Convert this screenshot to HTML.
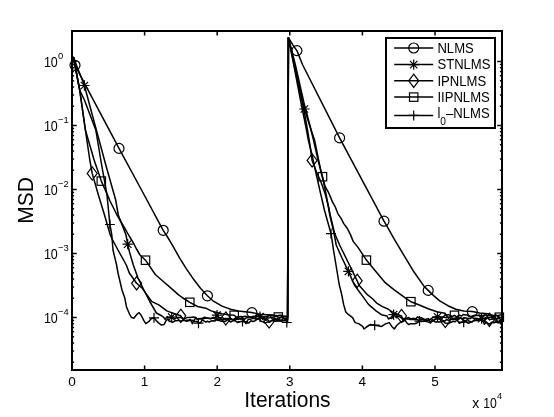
<!DOCTYPE html>
<html><head><meta charset="utf-8"><style>
html,body{margin:0;padding:0;background:#fff;}
svg{display:block;}
text{font-family:"Liberation Sans",Arial,Helvetica,sans-serif;fill:#000;}
.c{fill:none;stroke:#000;stroke-width:1.5;stroke-linejoin:round;stroke-linecap:round;}
.m{fill:none;stroke:#000;stroke-width:1.2;}
.ax{fill:none;stroke:#000;stroke-width:2;}
.tk{fill:none;stroke:#000;stroke-width:1.5;}
</style></head><body>
<svg width="554" height="417" viewBox="0 0 554 417">
<rect width="554" height="417" fill="#fff"/>
<polyline class="c" points="73.5,57.5 75.0,65.3 119.0,148.4 141.0,189.0 163.2,230.3 167.2,236.5 172.5,245.3 179.7,258.2 186.4,268.8 193.6,279.3 200.5,288.2 207.4,295.8 213.4,301.2 222.0,306.1 230.6,309.3 238.2,310.9 245.0,311.8 251.9,312.6 260.0,314.2 270.0,315.0 271.5,315.5 274.0,315.9 276.0,315.4 277.6,315.7 279.6,315.3 281.1,315.2 282.9,316.3 285.1,316.5 287.6,317.3 288.4,37.7 292.7,44.7 296.9,50.6 302.7,65.0 339.6,137.9 384.0,221.2 386.5,225.4 394.1,238.8 404.1,255.6 414.2,272.3 424.3,286.6 428.2,290.4 433.9,295.9 439.7,300.9 447.9,305.7 455.8,309.3 463.7,311.0 472.3,311.6 479.6,313.0 490.0,314.0 491.5,315.1 493.7,315.5 495.6,315.3 498.0,315.8 500.0,314.9 501.4,314.8"/>
<polyline class="c" points="73.5,57.5 84.4,85.5 95.0,125.0 105.8,165.0 115.7,200.0 118.3,215.0 126.0,235.0 127.7,244.1 129.5,252.0 133.3,265.0 138.0,278.0 143.9,290.0 150.0,302.0 156.4,313.0 162.0,316.0 163.5,317.1 165.1,319.3 167.2,316.6 168.6,317.8 171.7,317.1 173.3,318.4 175.3,318.8 176.8,317.4 179.2,317.6 181.1,317.5 183.3,318.8 185.4,318.3 187.8,317.4 190.0,317.5 191.9,317.2 193.4,317.1 195.8,317.6 197.6,319.7 199.4,318.5 201.7,319.0 203.5,318.8 205.2,318.3 207.5,318.3 209.4,318.5 211.5,318.2 213.3,317.3 215.6,318.1 217.0,315.2 219.1,318.0 221.7,317.6 224.0,318.5 225.7,319.6 227.6,318.4 230.0,318.2 231.8,319.2 233.7,319.5 236.0,317.6 238.1,318.4 239.9,319.0 242.3,317.7 244.3,319.3 246.0,318.1 248.5,317.2 251.1,317.3 253.0,316.4 255.1,316.5 256.9,314.6 260.0,316.7 261.8,316.3 263.3,317.0 265.1,318.7 267.2,318.0 269.3,317.9 271.2,317.3 273.4,318.0 275.6,318.4 277.8,320.8 279.8,318.2 281.9,316.7 283.6,317.9 287.6,318.8 288.4,37.7 294.2,65.0 302.0,100.0 304.4,109.0 309.5,125.0 314.5,140.0 318.0,157.0 321.0,172.0 323.6,182.0 326.2,195.0 328.4,207.0 329.8,215.0 334.0,233.0 336.2,245.0 342.0,258.0 348.4,271.4 354.4,285.0 363.1,296.9 368.5,304.4 376.0,310.9 381.4,314.7 387.0,316.0 388.5,319.0 390.0,318.1 391.9,318.5 393.6,314.6 396.2,317.2 397.6,316.1 399.7,316.9 401.8,318.0 404.2,319.0 406.3,318.2 408.8,317.6 411.0,319.0 413.4,318.2 415.4,319.2 417.5,316.9 419.2,318.1 421.3,317.7 423.3,318.9 425.3,320.6 427.2,320.5 429.7,320.0 431.2,318.6 432.8,317.6 434.7,317.6 436.1,316.5 437.8,317.0 439.2,316.3 441.2,318.0 443.2,317.0 445.5,317.4 447.7,317.3 450.1,317.1 452.7,318.5 454.5,318.3 456.7,317.6 459.3,318.1 460.8,318.1 462.4,318.6 463.9,317.8 466.2,318.0 468.6,318.7 470.1,318.5 472.0,317.3 474.0,318.5 475.7,318.2 477.3,318.4 479.4,319.0 480.9,318.8 482.3,318.4 484.9,318.1 486.6,317.6 489.0,317.7 490.4,317.1 492.8,318.3 494.9,317.2 496.5,318.8 498.1,318.8 500.5,317.6"/>
<polyline class="c" points="73.5,57.5 79.7,90.0 85.4,130.0 89.8,160.0 92.2,173.4 98.4,195.0 104.5,215.0 110.3,235.0 112.0,238.8 118.0,250.0 126.3,265.0 129.3,273.0 136.6,283.3 141.9,287.9 151.5,301.3 159.2,305.2 166.8,310.9 174.5,313.8 180.8,315.8 183.0,319.2 185.4,320.6 187.1,320.2 188.7,320.2 190.3,319.5 192.4,323.6 193.9,320.2 195.9,318.0 197.4,319.3 199.9,318.7 202.5,318.2 204.7,317.2 206.8,317.9 208.9,318.2 210.9,318.7 212.5,318.0 214.3,318.6 216.4,319.7 218.5,320.5 220.4,319.0 222.4,320.0 224.0,319.6 225.8,318.5 228.6,319.3 230.9,318.5 232.9,320.0 235.4,319.4 237.8,317.3 240.1,318.7 242.3,319.6 244.0,320.5 246.0,323.7 248.2,319.3 250.1,319.2 252.2,318.6 254.6,318.4 256.6,319.3 258.8,319.1 260.2,317.3 261.9,318.4 264.4,318.8 266.1,320.2 267.7,319.6 269.1,321.5 271.3,320.9 273.3,320.1 275.1,319.4 277.5,320.2 279.9,319.9 281.4,320.3 283.2,318.1 284.6,319.4 287.6,319.6 288.4,37.7 294.6,65.0 303.0,105.0 307.5,130.0 310.0,145.0 312.1,160.4 316.5,172.0 321.0,182.0 325.5,195.0 328.6,207.0 330.2,215.0 334.5,233.0 339.6,245.0 348.0,262.0 357.2,280.8 358.8,285.0 367.4,294.7 372.8,299.0 377.1,303.4 382.5,306.6 388.0,309.0 394.0,313.0 401.5,316.0 403.0,321.1 404.5,319.2 406.4,318.8 408.3,319.0 410.3,319.5 412.2,319.5 414.5,319.2 416.6,319.5 418.7,320.2 420.6,319.5 422.8,319.3 425.0,319.6 427.0,319.1 428.7,318.8 430.4,323.1 432.1,319.6 433.7,320.3 435.6,319.1 437.2,318.9 439.2,318.8 440.7,319.1 442.7,320.4 445.3,320.9 446.6,319.3 449.1,320.9 450.5,319.3 452.6,319.3 454.1,318.4 456.3,318.5 457.8,317.9 459.2,318.8 460.8,317.8 463.2,320.6 465.5,320.8 467.4,319.5 468.9,321.0 470.3,321.5 472.2,322.0 474.4,319.8 476.9,320.6 479.2,320.6 480.7,319.8 482.9,321.3 485.5,319.7 487.2,317.3 489.4,319.8 493.0,319.1 494.4,318.3 496.3,319.1 498.1,322.7 500.5,319.3"/>
<polyline class="c" points="73.5,57.5 79.7,90.0 85.4,130.0 94.1,160.0 101.3,181.1 107.5,195.0 110.0,201.0 113.0,207.0 117.0,215.0 124.0,227.0 128.0,234.0 131.0,239.0 133.8,243.6 136.5,249.0 140.0,255.0 145.5,260.2 155.3,274.5 163.0,281.2 170.7,287.9 178.3,294.6 182.2,297.5 189.8,302.3 197.5,306.5 205.8,308.2 211.2,310.9 216.6,312.5 222.0,313.8 228.0,314.8 234.2,315.3 236.0,316.9 238.2,317.1 240.7,316.5 243.0,316.8 245.2,316.2 247.1,317.0 249.4,316.9 251.9,316.8 253.7,316.4 255.9,317.4 257.4,315.9 259.0,315.8 261.2,316.4 262.7,316.7 264.4,317.0 267.0,316.5 268.9,315.4 271.1,315.1 272.6,315.0 274.3,315.2 275.8,316.3 278.3,317.0 281.3,317.2 282.9,316.8 284.6,316.2 287.6,316.2 288.4,37.7 295.4,65.0 304.0,103.0 308.5,120.0 313.5,140.0 318.0,160.0 322.5,176.7 325.2,186.7 328.6,192.6 332.8,202.7 335.3,206.9 337.8,213.6 341.2,218.6 343.6,223.4 347.2,228.2 350.8,235.4 353.2,241.4 358.0,247.4 362.8,254.6 366.4,260.1 375.0,270.6 384.6,282.1 394.2,289.8 399.4,293.7 406.6,298.8 410.9,301.7 418.1,304.5 428.2,308.8 436.8,311.7 445.0,313.2 446.5,315.5 448.1,314.6 450.7,315.6 452.2,316.5 454.5,315.3 456.8,316.9 459.1,315.2 461.7,316.0 463.2,314.4 465.5,315.0 467.5,314.9 469.0,316.8 471.3,316.4 473.1,315.8 474.8,315.3 477.3,315.4 479.8,315.1 481.3,316.6 482.8,315.6 485.2,314.8 487.8,315.7 490.1,315.4 492.6,316.2 494.2,316.4 495.8,315.2 499.3,317.2"/>
<polyline class="c" points="73.5,57.5 79.7,90.0 84.4,100.0 95.8,130.0 100.8,160.0 107.0,195.0 109.9,224.5 111.8,235.0 113.0,250.0 116.6,265.0 118.0,273.0 122.0,290.0 124.7,297.7 126.6,307.3 129.5,314.0 131.4,317.4 133.8,318.3 137.2,314.0 139.1,312.6 141.0,315.0 143.9,320.7 145.8,323.6 148.7,321.7 151.1,318.8 154.0,317.8 156.4,320.7 158.3,322.6 161.2,325.0 164.1,324.5 166.0,320.7 167.9,318.8 169.5,321.5 171.1,321.3 172.5,322.4 175.1,320.8 176.9,320.8 178.6,320.3 181.0,321.1 183.1,320.5 185.0,320.6 186.8,321.2 189.3,320.6 191.9,320.2 194.5,321.3 197.0,321.4 198.5,323.2 200.8,322.4 202.2,319.9 204.1,321.0 205.7,322.1 207.5,321.3 209.3,322.1 210.8,321.1 213.1,320.7 215.0,321.1 217.5,318.3 219.1,320.4 221.1,321.2 223.5,321.2 225.4,321.5 227.1,320.0 228.6,320.0 230.4,322.0 232.6,320.9 235.0,320.6 237.4,322.5 239.3,322.0 240.9,321.6 242.5,321.5 245.2,322.1 247.0,322.9 248.6,323.1 251.0,320.8 252.8,321.5 254.6,321.1 256.7,319.0 259.0,318.4 261.0,321.3 263.1,321.9 265.0,323.0 267.6,321.9 269.7,322.3 271.6,320.4 273.7,321.1 276.0,321.2 277.6,318.0 279.3,320.5 281.0,320.9 282.9,320.7 285.4,320.4 287.6,322.5 288.4,37.7 293.8,65.0 300.5,100.0 306.5,130.0 308.3,140.0 312.0,155.0 316.4,175.0 320.5,193.2 323.3,205.0 324.4,210.0 331.0,233.6 333.5,250.0 336.0,265.0 339.3,285.0 340.6,290.0 341.5,293.6 343.6,304.4 345.8,312.0 348.0,314.2 352.6,317.6 355.2,322.6 359.0,323.9 362.7,326.4 364.0,329.0 366.5,327.0 370.3,324.5 374.7,325.2 377.9,325.8 381.7,326.4 385.5,323.9 389.3,322.6 391.8,326.4 394.3,329.0 396.9,325.2 400.7,322.0 403.2,321.4 405.0,320.1 406.7,322.7 408.8,324.6 410.6,323.7 412.7,323.8 414.7,323.8 416.9,323.0 419.5,321.1 421.4,321.5 423.3,321.3 424.9,321.2 426.9,321.6 429.3,322.3 431.0,322.2 433.1,320.9 435.1,321.9 437.4,321.8 439.8,322.1 441.8,321.2 443.6,321.6 445.1,323.0 447.5,323.2 449.0,323.4 451.1,322.2 453.2,321.2 455.1,321.8 457.1,320.0 459.4,323.3 461.7,322.1 463.7,322.2 465.7,321.2 468.1,323.3 469.5,323.0 471.0,322.0 473.1,321.1 475.7,320.5 477.2,318.8 479.4,319.4 480.9,320.6 482.9,321.1 484.4,324.3 486.2,322.1 487.7,323.1 489.4,324.1 492.0,322.2 494.0,322.9 496.0,322.0 498.3,322.8 499.8,322.7 501.9,322.3"/>
<circle cx="75.0" cy="65.3" r="5.0" class="m"/>
<circle cx="119.0" cy="148.4" r="5.0" class="m"/>
<circle cx="163.2" cy="230.3" r="5.0" class="m"/>
<circle cx="207.4" cy="295.8" r="5.0" class="m"/>
<circle cx="251.9" cy="312.6" r="5.0" class="m"/>
<circle cx="296.9" cy="50.6" r="5.0" class="m"/>
<circle cx="339.6" cy="137.9" r="5.0" class="m"/>
<circle cx="384.0" cy="221.2" r="5.0" class="m"/>
<circle cx="428.2" cy="290.4" r="5.0" class="m"/>
<circle cx="472.3" cy="311.6" r="5.0" class="m"/>
<path d="M79.2 85.5H89.6M84.4 80.3V90.7M80.7 81.8L88.1 89.2M80.7 89.2L88.1 81.8" class="m"/>
<path d="M122.5 244.1H132.9M127.7 238.9V249.3M124.0 240.4L131.4 247.8M124.0 247.8L131.4 240.4" class="m"/>
<path d="M166.5 317.1H176.9M171.7 311.9V322.3M168.0 313.4L175.4 320.8M168.0 320.8L175.4 313.4" class="m"/>
<path d="M211.8 315.2H222.2M217.0 310.0V320.4M213.3 311.5L220.7 318.9M213.3 318.9L220.7 311.5" class="m"/>
<path d="M254.8 316.7H265.2M260.0 311.5V321.9M256.3 313.0L263.7 320.4M256.3 320.4L263.7 313.0" class="m"/>
<path d="M299.2 109.0H309.6M304.4 103.8V114.2M300.7 105.3L308.1 112.7M300.7 112.7L308.1 105.3" class="m"/>
<path d="M343.2 271.4H353.6M348.4 266.2V276.6M344.7 267.7L352.1 275.1M344.7 275.1L352.1 267.7" class="m"/>
<path d="M388.4 314.6H398.8M393.6 309.4V319.8M389.9 310.9L397.3 318.3M389.9 318.3L397.3 310.9" class="m"/>
<path d="M432.3 316.9H442.7M437.5 311.7V322.1M433.8 313.2L441.2 320.6M433.8 320.6L441.2 313.2" class="m"/>
<path d="M476.4 318.6H486.8M481.6 313.4V323.8M477.9 314.9L485.3 322.3M477.9 322.3L485.3 314.9" class="m"/>
<path d="M92.2 166.8L97.2 173.4L92.2 180.0L87.2 173.4Z" class="m"/>
<path d="M136.6 276.7L141.6 283.3L136.6 289.9L131.6 283.3Z" class="m"/>
<path d="M180.8 309.2L185.8 315.8L180.8 322.4L175.8 315.8Z" class="m"/>
<path d="M225.8 311.9L230.8 318.5L225.8 325.1L220.8 318.5Z" class="m"/>
<path d="M269.1 314.9L274.1 321.5L269.1 328.1L264.1 321.5Z" class="m"/>
<path d="M312.1 153.8L317.1 160.4L312.1 167.0L307.1 160.4Z" class="m"/>
<path d="M357.2 274.2L362.2 280.8L357.2 287.4L352.2 280.8Z" class="m"/>
<path d="M401.5 309.4L406.5 316.0L401.5 322.6L396.5 316.0Z" class="m"/>
<path d="M445.3 314.3L450.3 320.9L445.3 327.5L440.3 320.9Z" class="m"/>
<path d="M489.4 313.2L494.4 319.8L489.4 326.4L484.4 319.8Z" class="m"/>
<rect x="97.1" y="176.9" width="8.4" height="8.4" class="m"/>
<rect x="141.3" y="256.0" width="8.4" height="8.4" class="m"/>
<rect x="185.6" y="298.1" width="8.4" height="8.4" class="m"/>
<rect x="230.0" y="311.1" width="8.4" height="8.4" class="m"/>
<rect x="274.1" y="312.8" width="8.4" height="8.4" class="m"/>
<rect x="318.3" y="172.5" width="8.4" height="8.4" class="m"/>
<rect x="362.2" y="255.9" width="8.4" height="8.4" class="m"/>
<rect x="406.7" y="297.5" width="8.4" height="8.4" class="m"/>
<rect x="450.3" y="311.1" width="8.4" height="8.4" class="m"/>
<rect x="495.1" y="313.0" width="8.4" height="8.4" class="m"/>
<path d="M104.9 224.5H114.9M109.9 219.5V229.5" class="m"/>
<path d="M149.0 317.8H159.0M154.0 312.8V322.8" class="m"/>
<path d="M193.5 323.2H203.5M198.5 318.2V328.2" class="m"/>
<path d="M237.5 321.5H247.5M242.5 316.5V326.5" class="m"/>
<path d="M281.8 322.5H291.8M286.8 317.5V327.5" class="m"/>
<path d="M326.0 233.6H336.0M331.0 228.6V238.6" class="m"/>
<path d="M369.7 325.2H379.7M374.7 320.2V330.2" class="m"/>
<path d="M414.5 321.1H424.5M419.5 316.1V326.1" class="m"/>
<path d="M458.7 322.2H468.7M463.7 317.2V327.2" class="m"/>
<path class="tk" d="M144.6 370.0V365.4M144.6 31.0V35.6M217.2 370.0V365.4M217.2 31.0V35.6M289.8 370.0V365.4M289.8 31.0V35.6M362.4 370.0V365.4M362.4 31.0V35.6M435.0 370.0V365.4M435.0 31.0V35.6M72.0 362.2H74.1M502.0 362.2H499.9M72.0 351.0H74.1M502.0 351.0H499.9M72.0 343.0H74.1M502.0 343.0H499.9M72.0 336.8H74.1M502.0 336.8H499.9M72.0 331.7H74.1M502.0 331.7H499.9M72.0 327.4H74.1M502.0 327.4H499.9M72.0 323.7H74.1M502.0 323.7H499.9M72.0 320.4H74.1M502.0 320.4H499.9M72.0 317.5H76.8M502.0 317.5H497.2M72.0 298.2H74.1M502.0 298.2H499.9M72.0 287.0H74.1M502.0 287.0H499.9M72.0 279.0H74.1M502.0 279.0H499.9M72.0 272.8H74.1M502.0 272.8H499.9M72.0 267.7H74.1M502.0 267.7H499.9M72.0 263.4H74.1M502.0 263.4H499.9M72.0 259.7H74.1M502.0 259.7H499.9M72.0 256.4H74.1M502.0 256.4H499.9M72.0 253.5H76.8M502.0 253.5H497.2M72.0 234.2H74.1M502.0 234.2H499.9M72.0 223.0H74.1M502.0 223.0H499.9M72.0 215.0H74.1M502.0 215.0H499.9M72.0 208.8H74.1M502.0 208.8H499.9M72.0 203.7H74.1M502.0 203.7H499.9M72.0 199.4H74.1M502.0 199.4H499.9M72.0 195.7H74.1M502.0 195.7H499.9M72.0 192.4H74.1M502.0 192.4H499.9M72.0 189.5H76.8M502.0 189.5H497.2M72.0 170.2H74.1M502.0 170.2H499.9M72.0 159.0H74.1M502.0 159.0H499.9M72.0 151.0H74.1M502.0 151.0H499.9M72.0 144.8H74.1M502.0 144.8H499.9M72.0 139.7H74.1M502.0 139.7H499.9M72.0 135.4H74.1M502.0 135.4H499.9M72.0 131.7H74.1M502.0 131.7H499.9M72.0 128.4H74.1M502.0 128.4H499.9M72.0 125.5H76.8M502.0 125.5H497.2M72.0 106.2H74.1M502.0 106.2H499.9M72.0 95.0H74.1M502.0 95.0H499.9M72.0 87.0H74.1M502.0 87.0H499.9M72.0 80.8H74.1M502.0 80.8H499.9M72.0 75.7H74.1M502.0 75.7H499.9M72.0 71.4H74.1M502.0 71.4H499.9M72.0 67.7H74.1M502.0 67.7H499.9M72.0 64.4H74.1M502.0 64.4H499.9M72.0 61.5H76.8M502.0 61.5H497.2"/>
<rect class="ax" x="72.0" y="31.0" width="430.0" height="339.0"/>
<text x="72.0" y="386.2" font-size="13.6" text-anchor="middle">0</text>
<text x="144.6" y="386.2" font-size="13.6" text-anchor="middle">1</text>
<text x="217.2" y="386.2" font-size="13.6" text-anchor="middle">2</text>
<text x="289.8" y="386.2" font-size="13.6" text-anchor="middle">3</text>
<text x="362.4" y="386.2" font-size="13.6" text-anchor="middle">4</text>
<text x="435.0" y="386.2" font-size="13.6" text-anchor="middle">5</text>
<text x="43.9" y="66.8" font-size="14"><tspan textLength="13.9" lengthAdjust="spacingAndGlyphs">10</tspan><tspan font-size="9.4" dx="0.2" dy="-7.9">0</tspan></text>
<text x="43.9" y="130.8" font-size="14"><tspan textLength="13.9" lengthAdjust="spacingAndGlyphs">10</tspan><tspan font-size="9.4" dx="0.2" dy="-7.9">−1</tspan></text>
<text x="43.9" y="194.8" font-size="14"><tspan textLength="13.9" lengthAdjust="spacingAndGlyphs">10</tspan><tspan font-size="9.4" dx="0.2" dy="-7.9">−2</tspan></text>
<text x="43.9" y="258.8" font-size="14"><tspan textLength="13.9" lengthAdjust="spacingAndGlyphs">10</tspan><tspan font-size="9.4" dx="0.2" dy="-7.9">−3</tspan></text>
<text x="43.9" y="322.8" font-size="14"><tspan textLength="13.9" lengthAdjust="spacingAndGlyphs">10</tspan><tspan font-size="9.4" dx="0.2" dy="-7.9">−4</tspan></text>
<text transform="translate(287.4,407.3) scale(1,1.07)" font-size="21" text-anchor="middle">Iterations</text>
<text transform="translate(33.1,200.5) rotate(-90) scale(1,1.05)" font-size="21" text-anchor="middle">MSD</text>
<text x="472.3" y="408.4" font-size="14">x <tspan textLength="13.6" lengthAdjust="spacingAndGlyphs">10</tspan><tspan font-size="9" dx="0.3" dy="-9.2">4</tspan></text>
<rect x="386" y="38" width="109" height="90" fill="#fff" stroke="#000" stroke-width="2"/>
<path class="c" d="M394.2 48.0H433.2" style="stroke-linecap:butt"/>
<circle cx="413.7" cy="48.0" r="5.0" class="m"/>
<text transform="translate(437.4,52.9) scale(1,1.08)" font-size="13.1">NLMS</text>
<path class="c" d="M394.2 64.6H433.2" style="stroke-linecap:butt"/>
<path d="M408.5 64.6H418.9M413.7 59.4V69.8M410.0 60.9L417.4 68.3M410.0 68.3L417.4 60.9" class="m"/>
<text transform="translate(437.4,69.3) scale(1,1.08)" font-size="13.1">STNLMS</text>
<path class="c" d="M394.2 80.8H433.2" style="stroke-linecap:butt"/>
<path d="M413.7 74.2L418.7 80.8L413.7 87.4L408.7 80.8Z" class="m"/>
<text transform="translate(437.4,85.6) scale(1,1.08)" font-size="13.1">IPNLMS</text>
<path class="c" d="M394.2 97.1H433.2" style="stroke-linecap:butt"/>
<rect x="409.5" y="92.9" width="8.4" height="8.4" class="m"/>
<text transform="translate(437.4,102.3) scale(1,1.08)" font-size="13.1">IIPNLMS</text>
<path class="c" d="M394.2 115.4H433.2" style="stroke-linecap:butt"/>
<path d="M408.7 115.4H418.7M413.7 110.4V120.4" class="m"/>
<text transform="translate(437.4,117.5) scale(1,1.08)" font-size="13.1">l<tspan font-size="10.2" dy="6.9">0</tspan><tspan dy="-6.9">–NLMS</tspan></text>
</svg></body></html>
